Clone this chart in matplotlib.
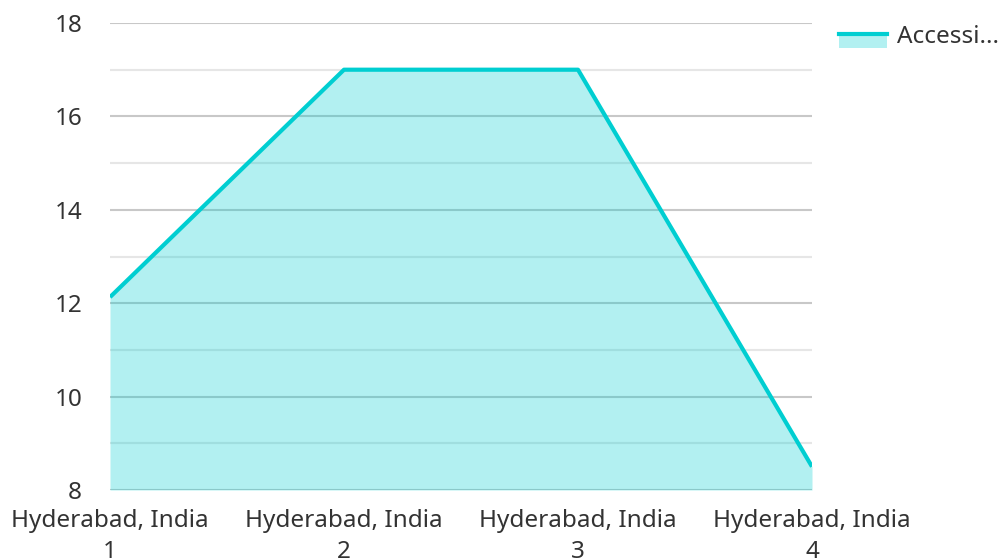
import matplotlib
matplotlib.use("Agg")
import matplotlib.pyplot as plt
from matplotlib.legend_handler import HandlerBase
from matplotlib.patches import Rectangle
from matplotlib.lines import Line2D

plt.rcParams['font.family'] = ['Noto Sans', 'DejaVu Sans']

# data
categories = ['Hyderabad, India\n1', 'Hyderabad, India\n2', 'Hyderabad, India\n3', 'Hyderabad, India\n4']
values = [12.13, 17.0, 17.0, 8.5]
series_name = 'Accessi...'

line_color = '#00ced1'
text_color = '#333333'


# legend swatch: area with the line along its top edge
class LineOverArea(HandlerBase):
    def create_artists(self, legend, orig_handle, xdescent, ydescent, width, height, fontsize, trans):
        h = height * 0.8
        y0 = -ydescent - 3.6
        rect = Rectangle((-xdescent, y0), width, h,
                         facecolor=line_color, alpha=0.3, edgecolor='none', transform=trans)
        ln = Line2D([-xdescent, -xdescent + width], [y0 + h, y0 + h],
                    color=line_color, lw=3, transform=trans)
        return [rect, ln]


fig = plt.figure(figsize=(10.02, 5.6), dpi=100)
ax = fig.add_axes([110 / 1002, 1 - 490 / 560, 702 / 1002, 467 / 560])

x = list(range(len(categories)))
ax.fill_between(x, 8, values, color=line_color, alpha=0.3, lw=0, zorder=2)
line, = ax.plot(x, values, color=line_color, lw=3, zorder=3, solid_capstyle='butt')

ax.set_xlim(0, len(categories) - 1)
ax.set_ylim(8, 18)
ax.set_yticks([8, 10, 12, 14, 16, 18])
ax.set_yticks([9, 11, 13, 15, 17], minor=True)
ax.set_xticks(x)
ax.set_xticklabels(categories)

ax.grid(axis='y', which='major', color='#c8c8c8', lw=1.5, zorder=1)
ax.grid(axis='y', which='minor', color='#e6e6e6', lw=1.5, zorder=1)
ax.grid(axis='x', visible=False)
ax.set_axisbelow(True)

for s in ax.spines.values():
    s.set_visible(False)
ax.tick_params(axis='both', which='both', length=0, labelsize=17.5, labelcolor=text_color)
ax.tick_params(axis='y', pad=20)
ax.tick_params(axis='x', pad=14)
for lbl in ax.get_xticklabels():
    lbl.set_linespacing(1.35)

fig.legend([line], [series_name], handler_map={line: LineOverArea()},
           loc='upper left', bbox_to_anchor=(829 / 1002, 1 - 15 / 560),
           frameon=False, fontsize=17.5, labelcolor=text_color,
           handlelength=2.0, handletextpad=0.4, borderaxespad=0)

fig.savefig('out.png', dpi=100)
